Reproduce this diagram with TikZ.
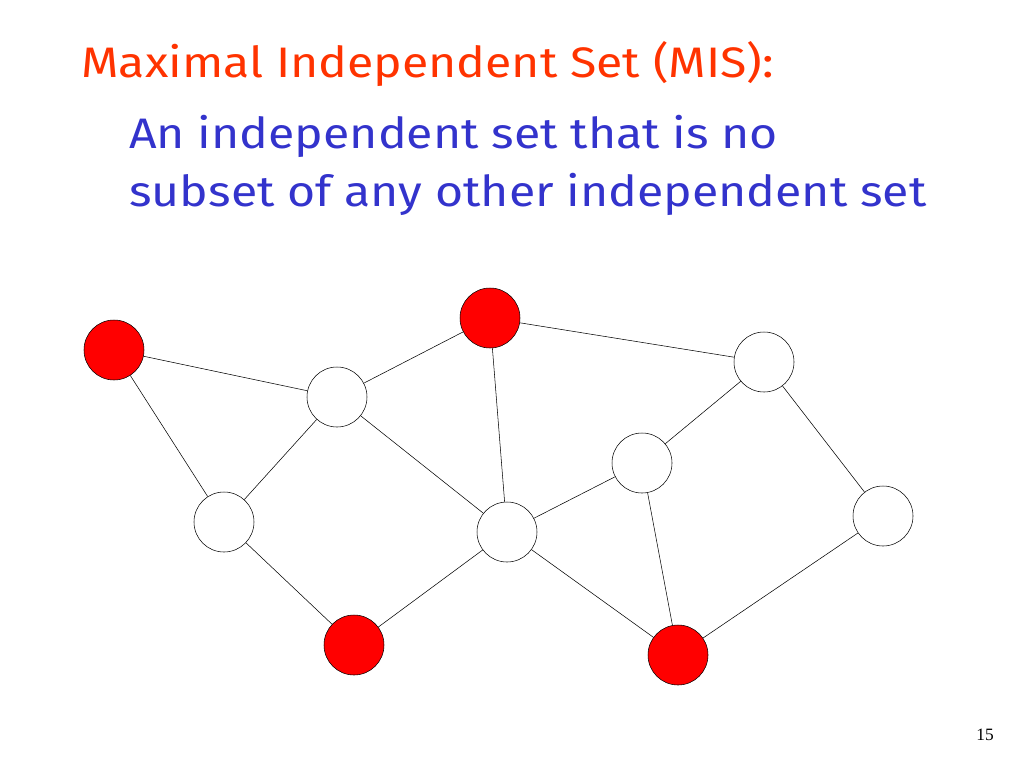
\documentclass[tikz,border=0pt]{standalone}
\usepackage{fontspec}
\setmainfont{Liberation Serif}
\newfontfamily\comic{Fira Sans}
\definecolor{titlered}{RGB}{255,51,0}
\definecolor{textblue}{RGB}{51,51,204}
\tikzset{
  vtx/.style={circle, draw, minimum size=45pt, inner sep=0pt, fill=white},
  mis/.style={vtx, fill=red},
  slide/.style={anchor=west, xscale=1.13, font=\comic\fontsize{32}{38}\selectfont},
}
\begin{document}
\begin{tikzpicture}[x=0.75pt,y=-0.75pt]
  \useasboundingbox (0,0) rectangle (1024,768);
  \node[slide, text=titlered] (title) at (76,64) {Maximal Independent Set (MIS):};
  \node[slide, text=textblue] (line1) at (124,136) {An independent set that is no};
  \node[slide, text=textblue] (line2) at (124,194) {subset of any other independent set};
  \node[font=\fontsize{13}{15}\selectfont] (page) at (985,735) {15};
  % vertices
  \node[mis] (a) at (114,350) {};
  \node[mis] (b) at (490,318) {};
  \node[vtx] (c) at (337,397) {};
  \node[vtx] (d) at (764,362) {};
  \node[vtx] (e) at (642,463) {};
  \node[vtx] (f) at (224,522) {};
  \node[vtx] (g) at (507,532) {};
  \node[vtx] (h) at (883,516) {};
  \node[mis] (i) at (354,645) {};
  \node[mis] (j) at (678,655) {};
  % edges
  \foreach \u/\v in {a/c, a/f, c/b, c/f, c/g, b/g, b/d, d/e, d/h, e/g, e/j, f/i, i/g, g/j, j/h}
    \draw (\u) -- (\v);
\end{tikzpicture}
\end{document}
